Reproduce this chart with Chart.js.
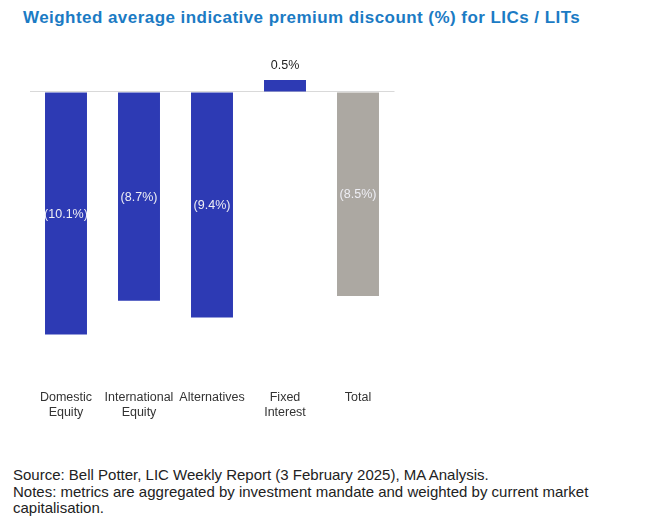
<!DOCTYPE html>
<html>
<head>
<meta charset="utf-8">
<script src="https://cdn.jsdelivr.net/npm/chart.js@4.4.1/dist/chart.umd.min.js"></script>
<style>
  html, body { margin: 0; padding: 0; background: #fff; }
  body { width: 661px; height: 518px; position: relative; overflow: hidden; font-family: "Liberation Sans", Arial, sans-serif; }
  #title { position: absolute; left: 23px; top: 8px; font-size: 17px; letter-spacing: 0.45px; font-weight: bold; color: #1b7bc4; white-space: nowrap; }
  #chartBox { position: absolute; left: 0; top: 41px; width: 420px; height: 400px; }
  #notes { position: absolute; left: 13px; top: 467px; font-size: 15px; line-height: 16.5px; color: #222; width: 620px; }
</style>
</head>
<body>
<div id="title">Weighted average indicative premium discount (%) for LICs / LITs</div>
<div id="chartBox"><canvas id="chart"></canvas></div>
<div id="notes">Source: Bell Potter, LIC Weekly Report (3 February 2025), MA Analysis.<br>Notes: metrics are aggregated by investment mandate and weighted by current market capitalisation.</div>
<script>
// 数据
const categories = [['Domestic', 'Equity'], ['International', 'Equity'], 'Alternatives', ['Fixed', 'Interest'], 'Total'];
const discounts = [-10.1, -8.7, -9.4, 0.5, -8.5];
const barColors = ['#2d3ab4', '#2d3ab4', '#2d3ab4', '#2d3ab4', '#aca8a2'];

function fmtPct(v) {
  return v < 0 ? `(${Math.abs(v).toFixed(1)}%)` : `${v.toFixed(1)}%`;
}

// 柱状图数值标签
const valueLabels = {
  id: 'valueLabels',
  afterDatasetsDraw(chart) {
    const { ctx } = chart;
    const meta = chart.getDatasetMeta(0);
    const zeroY = chart.scales.y.getPixelForValue(0);
    ctx.save();
    ctx.font = '12.5px "Liberation Sans", Arial, sans-serif';
    ctx.textAlign = 'center';
    ctx.textBaseline = 'middle';
    meta.data.forEach((bar, i) => {
      const v = discounts[i];
      if (v < 0) {
        ctx.fillStyle = '#eeeef4';
        ctx.fillText(fmtPct(v), bar.x, (bar.y + zeroY) / 2 + 1);
      } else {
        ctx.fillStyle = '#222';
        ctx.fillText(fmtPct(v), bar.x, bar.y - 14);
      }
    });
    ctx.restore();
  }
};

new Chart(document.getElementById('chart'), {
  type: 'bar',
  data: {
    labels: categories,
    datasets: [{
      data: discounts,
      backgroundColor: barColors,
      borderWidth: 0,
      categoryPercentage: 1,
      barPercentage: 0.575
    }]
  },
  options: {
    responsive: true,
    maintainAspectRatio: false,
    animation: false,
    layout: { padding: { left: 29.5, right: 25.5, top: 14.9, bottom: 19 } },
    plugins: {
      legend: { display: false },
      tooltip: { enabled: false }
    },
    scales: {
      x: {
        grid: { display: false },
        border: { display: false },
        ticks: {
          color: '#333',
          padding: 2,
          maxRotation: 0,
          autoSkip: false,
          font: { family: '"Liberation Sans", Arial, sans-serif', size: 12.5, lineHeight: 1.2 }
        }
      },
      y: {
        min: -12,
        max: 1.5,
        border: { display: false },
        grid: {
          drawTicks: false,
          color: (c) => c.tick && c.tick.value === 0 ? '#d9d9d9' : 'rgba(0,0,0,0)'
        },
        ticks: { display: false, stepSize: 0.5 }
      }
    }
  },
  plugins: [valueLabels]
});
</script>
</body>
</html>
